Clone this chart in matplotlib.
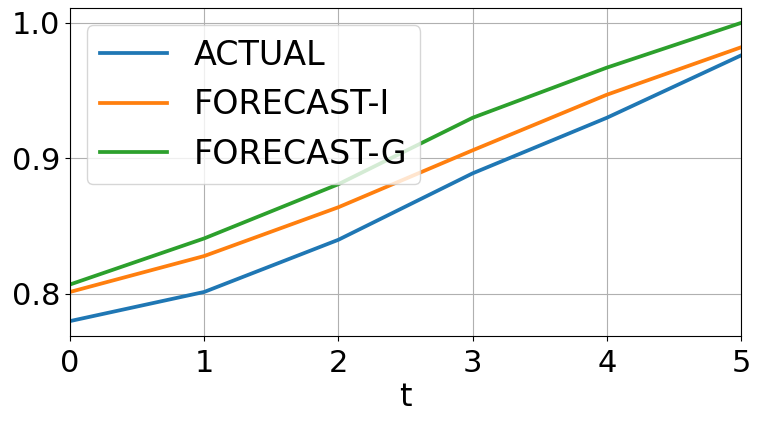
import matplotlib
matplotlib.use("Agg")
import matplotlib.pyplot as plt

t = [0, 1, 2, 3, 4, 5]
actual = [0.780, 0.8015, 0.840, 0.889, 0.930, 0.976]
forecast_i = [0.8015, 0.828, 0.864, 0.906, 0.947, 0.982]
forecast_g = [0.807, 0.841, 0.881, 0.930, 0.967, 1.000]
labels = ["ACTUAL", "FORECAST-I", "FORECAST-G"]

plt.rcParams['font.size'] = 22
fig = plt.figure(figsize=(7.61, 4.23), dpi=100)
ax = fig.add_axes([70/761, 1-336/423, (741-70)/761, (336-8)/423])
for y, lab in zip([actual, forecast_i, forecast_g], labels):
    ax.plot(t, y, lw=2.7, label=lab)
ax.set_xlim(0, 5)
ax.set_xticks(t)
ax.set_yticks([0.8, 0.9, 1.0])
ax.tick_params(axis='x', pad=6)
ax.set_xlabel("t", labelpad=3, fontsize=23)
ax.grid(True)
ax.legend(loc="upper left", fontsize=24, bbox_to_anchor=(0.0, 0.998))
fig.savefig("out.png", dpi=100)
